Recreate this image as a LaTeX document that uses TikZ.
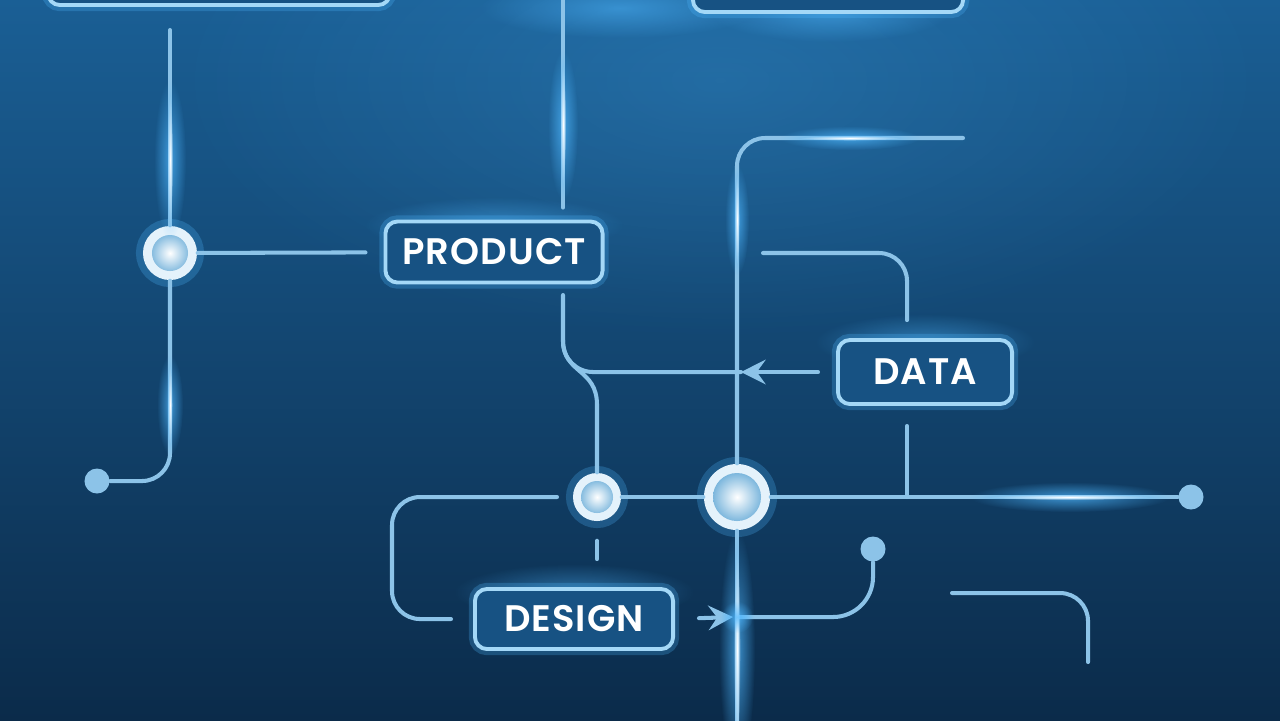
\documentclass[tikz,border=0pt]{standalone}
\usepackage{fontspec}
\newfontfamily\boxfont{Poppins}[UprightFont=*-SemiBold,LetterSpace=3]
\usetikzlibrary{arrows.meta,positioning,fadings,calc}
\definecolor{bgtop}{HTML}{1A5F95}
\definecolor{bgbot}{HTML}{0B2B4A}
\definecolor{wirec}{HTML}{8CC3E8}
\definecolor{rimc}{HTML}{A4D8F7}
\definecolor{boxc}{HTML}{175283}
\definecolor{ringc}{HTML}{E4F2FB}
\definecolor{ballc}{HTML}{4C9CD0}
\definecolor{glowc}{HTML}{4FB8FF}
\tikzfading[name=softglow,inner color=transparent!0,outer color=transparent!100]
\tikzset{hub/.style 2 args={circle,fill=ringc,inner sep=0pt,minimum size=#1,
  preaction={draw=glowc,line width=4pt,opacity=.25},
  path picture={\shade[inner color=white,outer color=ballc] (path picture bounding box.center) circle (#2);}}}

\begin{document}
\begin{tikzpicture}[x=0.01cm,y=-0.01cm,>={Stealth[length=7pt,width=7pt,inset=2.5pt]},line cap=round]
  \tikzstyle{wire}=[draw=wirec,line width=1.15pt,rounded corners=0.28cm]
  \tikzstyle{halo}=[fill=glowc,opacity=.7,path fading=softglow]
  \tikzstyle{core}=[fill=white,path fading=softglow]
  \tikzstyle{label}=[draw=rimc,line width=1.1pt,fill=boxc,rounded corners=0.12cm,text=white,inner sep=0pt,
    font=\boxfont\fontsize{10.5}{12}\selectfont,preaction={draw=glowc,line width=3.5pt,opacity=.25}]
  \tikzstyle{tip}=[circle,fill=wirec,inner sep=0pt,minimum size=0.25cm]

  \useasboundingbox (0,0) rectangle (1280,720);
  \clip (0,0) rectangle (1280,720);
  \shade[top color=bgtop,bottom color=bgbot] (0,0) rectangle (1280,720);
  \fill[glowc,opacity=.2,path fading=softglow] (720,80) ellipse (5.5cm and 2.6cm);

  % soft light behind the boxes
  \fill[halo,opacity=.45] (494,225) ellipse (1.3cm and 0.28cm);
  \fill[halo,opacity=.45] (925,342) ellipse (1.1cm and 0.28cm);
  \fill[halo,opacity=.45] (574,592) ellipse (1.2cm and 0.28cm);
  \fill[halo,opacity=.5] (620,8) ellipse (1.4cm and 0.3cm);
  \fill[halo,opacity=.5] (830,12) ellipse (1.2cm and 0.3cm);

  % boxes
  \node[label,minimum width=3.42cm,minimum height=0.8cm] (boxTL) at (219,-35) {};
  \node[label,minimum width=2.70cm,minimum height=0.8cm] (boxTR) at (828,-28) {};
  \node[label,minimum width=2.17cm,minimum height=0.61cm] (prod) at (494,252) {PRODUCT};
  \node[label,minimum width=1.74cm,minimum height=0.64cm] (data) at (925,372) {DATA};
  \node[label,minimum width=1.98cm,minimum height=0.60cm] (design) at (574,619) {DESIGN};

  % hubs and end dots
  \node[hub={0.54cm}{0.18cm}] (hubL) at (170,253) {};
  \node[hub={0.48cm}{0.16cm}] (hubS) at (597,497) {};
  \node[hub={0.66cm}{0.24cm}] (hubB) at (737,497) {};
  \node[tip] (dotL) at (97,481) {};
  \node[tip] (dotR) at (1191,497) {};
  \node[tip] (dotD) at (873,549) {};

  % free ends
  \coordinate (lTop) at (170,30);
  \coordinate (pT) at (563,-10);
  \coordinate (pB) at (563,295);
  \coordinate (arrL) at (741,372);
  \coordinate (arrR) at (733,617);
  \coordinate (trEnd) at (963,138);
  \coordinate (vBot) at (737,730);
  \coordinate (lS) at (557,497);
  \coordinate (dT) at (763,253);
  \coordinate (dx) at (907,497);
  \coordinate (brA) at (952,593);
  \coordinate (brB) at (1088,662);

  % wires
  \draw[wire] (lTop) -- (hubL);
  \draw[wire] (hubL) |- (dotL);
  \draw[wire,shorten >=0.18cm] (hubL) -- (prod);
  \draw[wire,shorten >=0.12cm] (pT) -- (pT |- prod.north);
  \draw[wire,rounded corners=0.3cm] (pB) |- (arrL);
  \draw[wire,sharp corners] (563,340) .. controls (563,374) and (597,368) .. (597,405) -- (hubS);
  \draw[wire,->,shorten <=0.18cm] (data.west) -- (arrL);
  \draw[wire] (trEnd) -| (hubB);
  \draw[wire] (hubB) -- (vBot);
  \draw[wire] (hubS) -- (hubB);
  \draw[wire] (hubB) -- (dotR);
  \draw[wire,shorten >=0.22cm] (lS) -- (392,497) -- (392,619) -- (design.west);
  \draw[wire,shorten <=0.19cm,shorten >=0.28cm] (hubS) -- (hubS |- design.north);
  \draw[wire,->,shorten <=0.24cm] (design.east) -- (arrR);
  \draw[wire,rounded corners=0.4cm] (arrR -| hubB) -| (dotD);
  \draw[wire,shorten >=0.18cm] (dT) -| (dx |- data.north);
  \draw[wire,shorten <=0.2cm] (dx |- data.south) -- (dx);
  \draw[wire] (brA) -| (brB);

  % glowing streaks
  \fill[halo] (170,160) ellipse (0.16cm and 0.8cm);
  \fill[core] (170,160) ellipse (0.03cm and 0.65cm);
  \fill[halo] (170,405) ellipse (0.13cm and 0.5cm);
  \fill[core] (170,405) ellipse (0.025cm and 0.4cm);
  \fill[halo] (563,125) ellipse (0.15cm and 0.75cm);
  \fill[core] (563,125) ellipse (0.03cm and 0.6cm);
  \fill[halo] (737,650) ellipse (0.18cm and 1.2cm);
  \fill[core] (737,650) ellipse (0.035cm and 1cm);
  \fill[halo] (737,220) ellipse (0.12cm and 0.55cm);
  \fill[core] (737,220) ellipse (0.025cm and 0.45cm);
  \fill[halo] (1070,497) ellipse (1cm and 0.15cm);
  \fill[core] (1070,497) ellipse (0.8cm and 0.03cm);
  \fill[halo] (850,138) ellipse (0.7cm and 0.12cm);
  \fill[core] (850,138) ellipse (0.5cm and 0.025cm);
  \fill[halo] (737,617) circle (0.16cm);
\end{tikzpicture}
\end{document}
